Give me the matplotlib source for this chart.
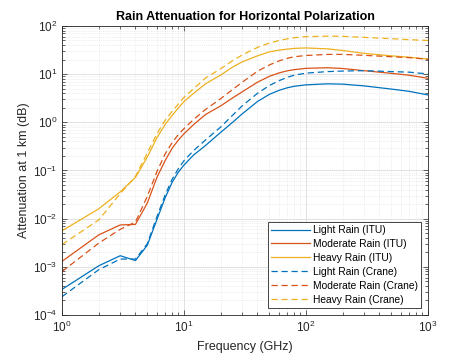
import matplotlib.pyplot as plt
import numpy as np
from matplotlib.ticker import NullFormatter

plt.rcParams['font.family'] = ['Liberation Sans', 'DejaVu Sans']

freq = [1, 2, 3, 4, 5, 6, 7, 8, 9, 10, 12, 15, 20, 25, 30, 40, 50, 60, 70, 80,
        100, 150, 200, 300, 500, 700, 1000]

light_itu = [3.4e-4, 1.05e-3, 1.7e-3, 1.35e-3, 2.8e-3, 0.0096, 0.027, 0.057, 0.093, 0.13,
             0.21, 0.33, 0.62, 1.0, 1.5, 2.7, 3.8, 4.6, 5.2, 5.6,
             6.0, 6.3, 6.2, 5.7, 4.9, 4.4, 3.7]
moderate_itu = [1.3e-3, 4.6e-3, 7.4e-3, 7.6e-3, 0.021, 0.072, 0.16, 0.29, 0.43, 0.58,
                0.9, 1.45, 2.2, 3.2, 4.3, 6.8, 9.0, 10.6, 11.7, 12.4,
                13.2, 13.6, 13.1, 11.8, 10.4, 9.5, 8.2]
heavy_itu = [5.6e-3, 0.016, 0.036, 0.072, 0.19, 0.48, 0.9, 1.4, 2.0, 2.7,
             4.0, 6.3, 9.6, 14, 18, 24, 29, 31.5, 33, 34.3,
             35, 33.5, 31, 27, 24, 22.5, 20.5]
light_crane = [2.4e-4, 8.7e-4, 1.45e-3, 1.45e-3, 3.0e-3, 0.011, 0.031, 0.066, 0.11, 0.16,
               0.26, 0.43, 0.8, 1.4, 2.2, 4.0, 5.8, 7.3, 8.6, 9.5,
               10.5, 11.3, 11.6, 11.8, 11.3, 11.0, 10.1]
moderate_crane = [8.0e-4, 3.1e-3, 6.0e-3, 8.5e-3, 0.029, 0.095, 0.22, 0.38, 0.56, 0.74,
                  1.15, 1.85, 3.1, 4.8, 6.8, 11.5, 15.5, 18.8, 21.3, 23,
                  24.4, 25.7, 25.7, 24.6, 23, 22, 20.4]
heavy_crane = [2.9e-3, 9.4e-3, 0.033, 0.075, 0.23, 0.58, 1.1, 1.7, 2.4, 3.3,
               5.0, 8.3, 13, 19, 25, 36, 44, 50, 54, 57,
               60, 61.5, 61, 58, 54.5, 52, 50]

labels = ['Light Rain (ITU)', 'Moderate Rain (ITU)', 'Heavy Rain (ITU)',
          'Light Rain (Crane)', 'Moderate Rain (Crane)', 'Heavy Rain (Crane)']
colors = ['#0072BD', '#D95319', '#EDB120']

fig = plt.figure(figsize=(4.74, 3.55), dpi=100)
ax = fig.add_axes((0.1308, 0.1127, 0.7722, 0.8141))

for y, c, lab in zip([light_itu, moderate_itu, heavy_itu], colors, labels[:3]):
    ax.plot(freq, y, '-', color=c, lw=0.9, label=lab)
for y, c, lab in zip([light_crane, moderate_crane, heavy_crane], colors, labels[3:]):
    ax.plot(freq, y, '--', color=c, lw=0.9, label=lab, dashes=(5, 3))

ax.set_xscale('log')
ax.set_yscale('log')
ax.set_xlim(1, 1000)
ax.set_ylim(1e-4, 1e2)
ax.xaxis.set_minor_formatter(NullFormatter())
ax.yaxis.set_minor_formatter(NullFormatter())

ax.grid(True, which='major', color='#dcdcdc', lw=0.6)
ax.grid(True, which='minor', color='#dedede', lw=0.5, ls=':')
ax.set_axisbelow(True)
ax.tick_params(which='both', direction='in', top=True, right=True, labelsize=8.5,
               colors='#262626', width=0.5)
ax.tick_params(which='major', length=3.5)
ax.tick_params(which='minor', length=2)
for s in ax.spines.values():
    s.set_color('#262626')
    s.set_linewidth(0.6)

ax.set_title('Rain Attenuation for Horizontal Polarization', fontsize=9,
             fontweight='bold', pad=4)
ax.set_xlabel('Frequency (GHz)', fontsize=9, color='#262626', labelpad=4)
ax.set_ylabel('Attenuation at 1 km (dB)', fontsize=9, color='#262626', labelpad=2)

leg = ax.legend(loc='lower right', fontsize=7.4, fancybox=False, framealpha=1,
                edgecolor='#262626', handlelength=3.8, handletextpad=0.3,
                labelspacing=0.38, borderpad=0.3, borderaxespad=0.7)
leg.get_frame().set_linewidth(0.6)

fig.savefig('out.png', dpi=100)
